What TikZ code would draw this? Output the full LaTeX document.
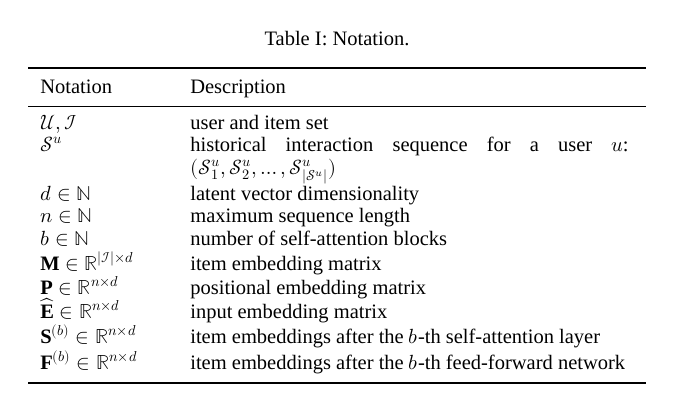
\documentclass[tikz,border=0pt]{standalone}
\usepackage{amsmath,amssymb}
\usepackage{fontspec}
\setmainfont{Liberation Serif}
\usepackage{unicode-math}
\setmathfont{Latin Modern Math}
\begin{document}
\begin{tikzpicture}[x=0.6pt,y=-0.6pt]
\tikzstyle{sym}=[anchor=base west, inner sep=0pt, font=\fontsize{12.3}{13}\selectfont]
\tikzstyle{desc}=[anchor=base west, inner sep=0pt, font=\fontsize{12.3}{13}\selectfont]
\tikzstyle{rule}=[line width=0.9pt]
\useasboundingbox (0,0) rectangle (674,412);
  \node[anchor=base, inner sep=0pt, font=\fontsize{12.3}{14}\selectfont] (title) at (337,45) {Table I: Notation.};
  \coordinate (tl) at (28,68);  \coordinate (tr) at (646,68);
  \coordinate (ml) at (28,106); \coordinate (mr) at (646,106);
  \coordinate (bl) at (28,383); \coordinate (br) at (646,383);
  \draw[rule] (tl) -- (tr);
  \draw[line width=0.5pt] (ml) -- (mr);
  \draw[rule] (bl) -- (br);
  \node[sym] (hn) at (40,93) {Notation};
  \node[desc] (hd) at (190,93) {Description};
  \node[sym] (s1) at (40,129) {$\mathcal{U},\mathcal{I}$};
  \node[desc] (d1) at (190,129) {user and item set};
  \node[sym] (s2) at (40,151) {$\mathcal{S}^u$};
  \node[desc] (d2) at (190,151) {\hbox to 263pt{historical\hfill interaction\hfill sequence\hfill for\hfill a\hfill user\hfill $u$:}};
  \node[desc] (d2b) at (190,174) {$(\mathcal{S}_1^u,\mathcal{S}_2^u,\dots,\mathcal{S}_{|\mathcal{S}^u|}^u)$};
  \node[sym] (s3) at (40,200) {$d\in\mathbb{N}$};
  \node[desc] (d3) at (190,200) {latent vector dimensionality};
  \node[sym] (s4) at (40,222) {$n\in\mathbb{N}$};
  \node[desc] (d4) at (190,222) {maximum sequence length};
  \node[sym] (s5) at (40,245) {$b\in\mathbb{N}$};
  \node[desc] (d5) at (190,245) {number of self-attention blocks};
  \node[sym] (s6) at (40,270) {$\mathbf{M}\in\mathbb{R}^{|\mathcal{I}|\times d}$};
  \node[desc] (d6) at (190,270) {item embedding matrix};
  \node[sym] (s7) at (40,294) {$\mathbf{P}\in\mathbb{R}^{n\times d}$};
  \node[desc] (d7) at (190,294) {positional embedding matrix};
  \node[sym] (s8) at (40,318) {$\widehat{\mathbf{E}}\in\mathbb{R}^{n\times d}$};
  \node[desc] (d8) at (190,318) {input embedding matrix};
  \node[sym] (s9) at (40,343) {$\mathbf{S}^{(b)}\in\mathbb{R}^{n\times d}$};
  \node[desc] (d9) at (190,343) {item embeddings after the $b$-th self-attention layer};
  \node[sym] (s10) at (40,369) {$\mathbf{F}^{(b)}\in\mathbb{R}^{n\times d}$};
  \node[desc] (d10) at (190,369) {item embeddings after the $b$-th feed-forward network};
\end{tikzpicture}
\end{document}
